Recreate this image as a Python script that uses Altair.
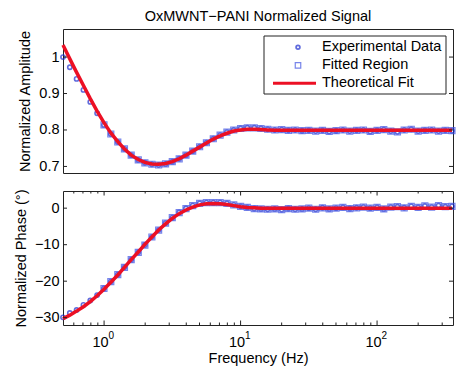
import altair as alt
import pandas as pd

FONT = "Liberation Sans"
FS = 14.5
BLUE_C = "#1f2fd0"
BLUE_S = "#3f52e2"
RED = "#ec1024"

# ---------------- data ----------------
freq = [0.5, 0.561, 0.629, 0.706, 0.792, 0.889, 0.998, 1.12, 1.26, 1.41,
        1.58, 1.78, 1.99, 2.24, 2.51, 2.82, 3.16, 3.55, 3.98, 4.46,
        5.01, 5.62, 6.31, 7.08, 7.94, 8.91, 10.0, 11.2, 12.6, 14.1,
        15.8, 17.8, 20.0, 22.4, 25.1, 28.2, 31.6, 35.5, 39.8, 44.6,
        50.1, 56.2, 63.1, 70.8, 79.4, 89.1, 100, 112, 126, 141,
        158, 178, 200, 224, 251, 282, 316, 354]

amp_data = [1.000, 0.972, 0.940, 0.910, 0.877, 0.846, 0.814, 0.789, 0.767, 0.748,
            0.731, 0.718, 0.710, 0.706, 0.704, 0.707, 0.713, 0.721, 0.731, 0.742,
            0.754, 0.765, 0.776, 0.786, 0.794, 0.800, 0.804, 0.806, 0.806, 0.804,
            0.802, 0.800, 0.801, 0.799, 0.800, 0.798, 0.799, 0.797, 0.799, 0.796,
            0.798, 0.800, 0.797, 0.799, 0.800, 0.796, 0.799, 0.801, 0.797, 0.795,
            0.800, 0.802, 0.797, 0.799, 0.800, 0.797, 0.799, 0.798]

amp_fit = [1.033, 0.995, 0.958, 0.922, 0.886, 0.852, 0.820, 0.792, 0.768, 0.748,
           0.731, 0.719, 0.711, 0.707, 0.706, 0.708, 0.713, 0.721, 0.731, 0.742,
           0.753, 0.764, 0.775, 0.784, 0.791, 0.797, 0.800, 0.802, 0.802, 0.801,
           0.800, 0.799, 0.799, 0.799, 0.799, 0.799, 0.799, 0.799, 0.799, 0.799,
           0.799, 0.799, 0.799, 0.799, 0.799, 0.799, 0.799, 0.799, 0.799, 0.799,
           0.799, 0.799, 0.799, 0.799, 0.799, 0.799, 0.799, 0.799]

phase_data = [-29.9, -28.7, -27.9, -26.5, -25.3, -23.8, -22.0, -20.1, -18.2, -16.2,
              -14.1, -12.1, -10.1, -7.9, -6.0, -4.1, -2.6, -1.2, -0.1, 0.7,
              1.3, 1.5, 1.5, 1.5, 1.3, 0.9, 0.5, 0.2, -0.1, -0.2,
              -0.3, -0.2, -0.4, -0.1, -0.3, -0.2, 0.0, -0.3, 0.1, -0.2,
              0.0, 0.2, -0.1, 0.1, 0.3, 0.0, 0.2, -0.2, 0.3, 0.4,
              0.1, 0.5, 0.2, 0.6, 0.3, 0.7, 0.4, 0.5]

phase_fit = [-30.3, -29.3, -28.2, -27.0, -25.6, -24.0, -22.2, -20.3, -18.3, -16.2,
             -14.1, -12.0, -9.9, -7.9, -6.0, -4.3, -2.8, -1.5, -0.5, 0.3,
             0.9, 1.2, 1.3, 1.2, 1.0, 0.7, 0.4, 0.2, 0.1, 0.0,
             0.0, 0.0, 0.0, 0.0, 0.0, 0.0, 0.0, 0.0, 0.0, 0.0,
             0.0, 0.0, 0.0, 0.0, 0.0, 0.0, 0.0, 0.0, 0.0, 0.0,
             0.0, 0.0, 0.0, 0.0, 0.0, 0.0, 0.0, 0.0]

fit_start = 6  # first index of the fitted region

legend_labels = ["Experimental Data", "Fitted Region", "Theoretical Fit"]
amp_ticks = [0.7, 0.8, 0.9, 1.0]
phase_ticks = [-30, -20, -10, 0]
x_major = [1, 10, 100]
x_exponents = ["0", "1", "2"]
x_minor = [0.6, 0.7, 0.8, 0.9, 2, 3, 4, 5, 6, 7, 8, 9,
           20, 30, 40, 50, 60, 70, 80, 90, 200, 300]

# ---------------- layout ----------------
W = 390
H1 = 144
H2 = 134
XSCALE = alt.Scale(type="log", domain=[0.5, 360], nice=False)


def yaxis(values, fmt, title):
    return alt.Axis(values=values, format=fmt, title=title, ticks=False,
                    domain=False, grid=False, labelFontSize=FS,
                    titleFontSize=FS, labelPadding=4, titlePadding=6,
                    titleFontWeight="normal", labelColor="black",
                    titleColor="black", labelFont=FONT, titleFont=FONT)


def panel(ydata, yfit, ydomain, yticks, fmt, ytitle, height, xaxis, xticks):
    ys = alt.Scale(domain=ydomain, nice=False, zero=False)
    ya = yaxis(yticks, fmt, ytitle)
    df = pd.DataFrame({"f": freq, "y": ydata, "yfit": yfit})
    df_fit = df.iloc[fit_start:]
    xenc = alt.X("f:Q", scale=XSCALE, axis=xaxis)

    circles = alt.Chart(df).mark_point(
        shape="circle", filled=False, color=BLUE_C, size=18, strokeWidth=1.6
    ).encode(x=xenc, y=alt.Y("y:Q", scale=ys, axis=ya))
    squares = alt.Chart(df_fit).mark_point(
        shape="square", filled=False, color=BLUE_S, size=36, strokeWidth=1.2
    ).encode(x=xenc, y=alt.Y("y:Q", scale=ys, axis=ya))
    fit = alt.Chart(df).mark_line(color=RED, strokeWidth=3.5).encode(
        x=xenc, y=alt.Y("yfit:Q", scale=ys, axis=ya))

    dyt = pd.DataFrame({"y": yticks})
    yt_left = alt.Chart(dyt).mark_rule(color="#222", strokeWidth=1).encode(
        y=alt.Y("y:Q", scale=ys, axis=ya), x=alt.value(0), x2=alt.value(4))
    yt_right = alt.Chart(dyt).mark_rule(color="#222", strokeWidth=1).encode(
        y=alt.Y("y:Q", scale=ys, axis=ya), x=alt.value(W), x2=alt.value(W - 4))

    layers = [circles, squares, fit, yt_left, yt_right]

    if xticks:
        dmaj = pd.DataFrame({"f": x_major, "e": x_exponents})
        dmin = pd.DataFrame({"f": x_minor})
        for d, L in ((dmaj, 4.5), (dmin, 2.5)):
            layers.append(alt.Chart(d).mark_rule(color="#222", strokeWidth=1).encode(
                x=xenc, y=alt.value(0), y2=alt.value(L)))
            layers.append(alt.Chart(d).mark_rule(color="#222", strokeWidth=1).encode(
                x=xenc, y=alt.value(height), y2=alt.value(height - L)))
        layers.append(alt.Chart(dmaj).mark_text(
            text="10", font=FONT, fontSize=FS, color="black", align="center",
            baseline="alphabetic", dx=-3.5
        ).encode(x=xenc, y=alt.value(height + 22)))
        layers.append(alt.Chart(dmaj).mark_text(
            font=FONT, fontSize=10, color="black", align="left",
            baseline="alphabetic", dx=4.5
        ).encode(x=xenc, y=alt.value(height + 14), text="e:N"))
    return layers


top_layers = panel(amp_data, amp_fit, [0.682, 1.077], amp_ticks, "~g",
                   "Normalized Amplitude", H1, None, False)

# legend (inside the top panel)
one = pd.DataFrame({"a": [0]})
lx0, lx1, ly0, ly1 = 201, 383, 7, 65
rows = [18.3, 36.3, 54.3]
top_layers.append(alt.Chart(one).mark_rect(
    fill="white", stroke="#222", strokeWidth=1
).encode(x=alt.value(lx0), x2=alt.value(lx1), y=alt.value(ly0), y2=alt.value(ly1)))
top_layers.append(alt.Chart(one).mark_point(
    shape="circle", filled=False, color=BLUE_C, size=14, strokeWidth=1.8
).encode(x=alt.value(235), y=alt.value(rows[0])))
top_layers.append(alt.Chart(one).mark_point(
    shape="square", filled=False, color=BLUE_S, size=30, strokeWidth=1.2
).encode(x=alt.value(235), y=alt.value(rows[1])))
top_layers.append(alt.Chart(one).mark_rule(color=RED, strokeWidth=3).encode(
    x=alt.value(210), x2=alt.value(253), y=alt.value(rows[2])))
for lab, ry in zip(legend_labels, rows):
    top_layers.append(alt.Chart(pd.DataFrame({"t": [lab]})).mark_text(
        font=FONT, fontSize=FS, color="black", align="left", baseline="middle"
    ).encode(x=alt.value(259), y=alt.value(ry), text="t:N"))

top = alt.layer(*top_layers).properties(
    width=W, height=H1,
    title=alt.TitleParams("OxMWNT\u2212PANI Normalized Signal", font=FONT,
                          fontSize=FS, fontWeight="normal", color="black",
                          anchor="middle", frame="group", offset=5))

xaxis_bottom = alt.Axis(title="Frequency (Hz)", labels=False, ticks=False,
                        domain=False, grid=False, titleFontSize=FS,
                        titleFont=FONT, titleFontWeight="normal",
                        titleColor="black", titlePadding=26)
bottom_layers = panel(phase_data, phase_fit, [-32, 4.7], phase_ticks, "d",
                      "Normalized Phase (\u00b0)", H2, xaxis_bottom, True)
bottom = alt.layer(*bottom_layers).properties(width=W, height=H2)

chart = alt.vconcat(top, bottom, spacing=14).properties(
    padding={"left": 4, "top": 0, "right": 5, "bottom": 5}
).configure_view(stroke="#222", strokeWidth=1)

chart.save("out.html", embed_options={"renderer": "svg", "actions": False})
